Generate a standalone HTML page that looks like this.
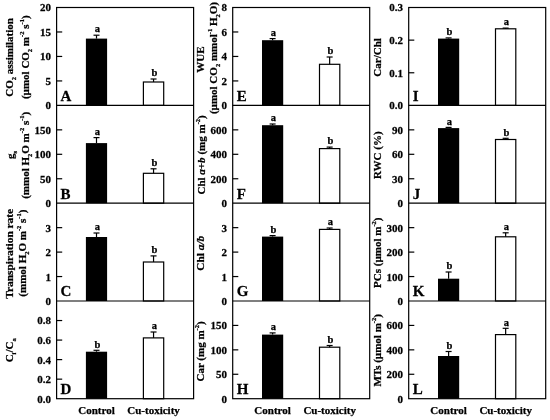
<!DOCTYPE html><html><head><meta charset="utf-8"><title>Figure</title><style>html,body{margin:0;padding:0;background:#fff;}svg{display:block;}</style></head><body>
<svg width="550" height="420" viewBox="0 0 550 420" font-family="'Liberation Serif', 'Times New Roman', serif" font-weight="bold">
<style>text{stroke:#000;stroke-width:0.25px;}</style>
<rect x="0" y="0" width="550" height="420" fill="#fff"/>
<rect x="85.90" y="38.60" width="21.20" height="66.80" fill="#000"/>
<rect x="143.40" y="82.00" width="20.30" height="23.40" fill="#fff" stroke="#000" stroke-width="1.2"/>
<line x1="96.50" y1="38.60" x2="96.50" y2="35.20" stroke="#000" stroke-width="1.2"/>
<line x1="93.50" y1="35.20" x2="99.50" y2="35.20" stroke="#000" stroke-width="1.2"/>
<line x1="153.55" y1="82.00" x2="153.55" y2="79.00" stroke="#000" stroke-width="1.2"/>
<line x1="150.55" y1="79.00" x2="156.55" y2="79.00" stroke="#000" stroke-width="1.2"/>
<text x="97.30" y="32.40" font-size="10.5" text-anchor="middle">a</text>
<text x="154.35" y="76.20" font-size="10.5" text-anchor="middle">b</text>
<text transform="translate(50.90,109.35) scale(1,1.03)" font-size="11" text-anchor="end">0</text>
<line x1="56.60" y1="80.93" x2="62.20" y2="80.93" stroke="#000" stroke-width="1.2"/>
<text transform="translate(50.90,84.88) scale(1,1.03)" font-size="11" text-anchor="end">5</text>
<line x1="56.60" y1="56.45" x2="62.20" y2="56.45" stroke="#000" stroke-width="1.2"/>
<text transform="translate(50.90,60.40) scale(1,1.03)" font-size="11" text-anchor="end">10</text>
<line x1="56.60" y1="31.97" x2="62.20" y2="31.97" stroke="#000" stroke-width="1.2"/>
<text transform="translate(50.90,35.92) scale(1,1.03)" font-size="11" text-anchor="end">15</text>
<text transform="translate(50.90,11.45) scale(1,1.03)" font-size="11" text-anchor="end">20</text>
<text transform="translate(60.60,100.80) scale(1,1.03)" font-size="15">A</text>
<text transform="translate(13.30,57.45) rotate(-90)" font-size="11" text-anchor="middle">CO<tspan font-size="6.5" baseline-shift="-2.6">2</tspan> assimilation</text>
<text transform="translate(28.50,57.25) rotate(-90)" font-size="11" text-anchor="middle">(µmol CO<tspan font-size="6.5" baseline-shift="-2.6">2</tspan> m<tspan font-size="6.5" baseline-shift="5.3">-2</tspan> s<tspan font-size="6.5" baseline-shift="5.3">-1</tspan>)</text>
<rect x="85.90" y="143.10" width="21.20" height="60.10" fill="#000"/>
<rect x="143.40" y="173.30" width="20.30" height="29.90" fill="#fff" stroke="#000" stroke-width="1.2"/>
<line x1="96.50" y1="143.10" x2="96.50" y2="137.60" stroke="#000" stroke-width="1.2"/>
<line x1="93.50" y1="137.60" x2="99.50" y2="137.60" stroke="#000" stroke-width="1.2"/>
<line x1="153.55" y1="173.30" x2="153.55" y2="168.80" stroke="#000" stroke-width="1.2"/>
<line x1="150.55" y1="168.80" x2="156.55" y2="168.80" stroke="#000" stroke-width="1.2"/>
<text x="97.30" y="134.80" font-size="10.5" text-anchor="middle">a</text>
<text x="154.35" y="166.00" font-size="10.5" text-anchor="middle">b</text>
<text transform="translate(50.90,207.15) scale(1,1.03)" font-size="11" text-anchor="end">0</text>
<line x1="56.60" y1="178.75" x2="62.20" y2="178.75" stroke="#000" stroke-width="1.2"/>
<text transform="translate(50.90,182.70) scale(1,1.03)" font-size="11" text-anchor="end">50</text>
<line x1="56.60" y1="154.30" x2="62.20" y2="154.30" stroke="#000" stroke-width="1.2"/>
<text transform="translate(50.90,158.25) scale(1,1.03)" font-size="11" text-anchor="end">100</text>
<line x1="56.60" y1="129.85" x2="62.20" y2="129.85" stroke="#000" stroke-width="1.2"/>
<text transform="translate(50.90,133.80) scale(1,1.03)" font-size="11" text-anchor="end">150</text>
<text transform="translate(60.60,198.60) scale(1,1.03)" font-size="15">B</text>
<text transform="translate(14.00,155.10) rotate(-90)" font-size="11" text-anchor="middle">g<tspan font-size="6.5" baseline-shift="-2.6">s</tspan></text>
<text transform="translate(28.50,155.30) rotate(-90)" font-size="11" text-anchor="middle">(mmol H<tspan font-size="6.5" baseline-shift="-2.6">2</tspan>O m<tspan font-size="6.5" baseline-shift="5.3">-2</tspan> s<tspan font-size="6.5" baseline-shift="5.3">-1</tspan>)</text>
<rect x="85.90" y="237.00" width="21.20" height="64.00" fill="#000"/>
<rect x="143.40" y="262.00" width="20.30" height="39.00" fill="#fff" stroke="#000" stroke-width="1.2"/>
<line x1="96.50" y1="237.00" x2="96.50" y2="233.00" stroke="#000" stroke-width="1.2"/>
<line x1="93.50" y1="233.00" x2="99.50" y2="233.00" stroke="#000" stroke-width="1.2"/>
<line x1="153.55" y1="262.00" x2="153.55" y2="255.90" stroke="#000" stroke-width="1.2"/>
<line x1="150.55" y1="255.90" x2="156.55" y2="255.90" stroke="#000" stroke-width="1.2"/>
<text x="97.30" y="230.20" font-size="10.5" text-anchor="middle">a</text>
<text x="154.35" y="253.10" font-size="10.5" text-anchor="middle">b</text>
<text transform="translate(50.90,304.95) scale(1,1.03)" font-size="11" text-anchor="end">0</text>
<line x1="56.60" y1="276.55" x2="62.20" y2="276.55" stroke="#000" stroke-width="1.2"/>
<text transform="translate(50.90,280.50) scale(1,1.03)" font-size="11" text-anchor="end">1</text>
<line x1="56.60" y1="252.10" x2="62.20" y2="252.10" stroke="#000" stroke-width="1.2"/>
<text transform="translate(50.90,256.05) scale(1,1.03)" font-size="11" text-anchor="end">2</text>
<line x1="56.60" y1="227.65" x2="62.20" y2="227.65" stroke="#000" stroke-width="1.2"/>
<text transform="translate(50.90,231.60) scale(1,1.03)" font-size="11" text-anchor="end">3</text>
<text transform="translate(60.60,296.40) scale(1,1.03)" font-size="15">C</text>
<text transform="translate(13.30,253.80) rotate(-90) scale(1.035,1)" font-size="11" text-anchor="middle">Transpiration rate</text>
<text transform="translate(25.80,253.10) rotate(-90)" font-size="11" text-anchor="middle">(mmol H<tspan font-size="6.5" baseline-shift="-2.6">2</tspan>O m<tspan font-size="6.5" baseline-shift="5.3">-2</tspan> s<tspan font-size="6.5" baseline-shift="5.3">-1</tspan>)</text>
<rect x="85.90" y="351.70" width="21.20" height="47.00" fill="#000"/>
<rect x="143.40" y="337.90" width="20.30" height="60.80" fill="#fff" stroke="#000" stroke-width="1.2"/>
<line x1="96.50" y1="351.70" x2="96.50" y2="350.30" stroke="#000" stroke-width="1.2"/>
<line x1="93.50" y1="350.30" x2="99.50" y2="350.30" stroke="#000" stroke-width="1.2"/>
<line x1="153.55" y1="337.90" x2="153.55" y2="332.00" stroke="#000" stroke-width="1.2"/>
<line x1="150.55" y1="332.00" x2="156.55" y2="332.00" stroke="#000" stroke-width="1.2"/>
<text x="97.30" y="347.50" font-size="10.5" text-anchor="middle">b</text>
<text x="154.35" y="329.20" font-size="10.5" text-anchor="middle">a</text>
<text transform="translate(50.90,402.65) scale(1,1.03)" font-size="11" text-anchor="end">0.0</text>
<line x1="56.60" y1="379.16" x2="62.20" y2="379.16" stroke="#000" stroke-width="1.2"/>
<text transform="translate(50.90,383.11) scale(1,1.03)" font-size="11" text-anchor="end">0.2</text>
<line x1="56.60" y1="359.62" x2="62.20" y2="359.62" stroke="#000" stroke-width="1.2"/>
<text transform="translate(50.90,363.57) scale(1,1.03)" font-size="11" text-anchor="end">0.4</text>
<line x1="56.60" y1="340.08" x2="62.20" y2="340.08" stroke="#000" stroke-width="1.2"/>
<text transform="translate(50.90,344.03) scale(1,1.03)" font-size="11" text-anchor="end">0.6</text>
<line x1="56.60" y1="320.54" x2="62.20" y2="320.54" stroke="#000" stroke-width="1.2"/>
<text transform="translate(50.90,324.49) scale(1,1.03)" font-size="11" text-anchor="end">0.8</text>
<text transform="translate(60.60,394.10) scale(1,1.03)" font-size="15">D</text>
<text transform="translate(12.90,350.35) rotate(-90)" font-size="11" text-anchor="middle">C<tspan font-size="6.5" baseline-shift="-2.6">i</tspan>/C<tspan font-size="6.5" baseline-shift="-2.6">a</tspan></text>
<rect x="262.00" y="40.20" width="21.20" height="65.20" fill="#000"/>
<rect x="319.50" y="64.30" width="20.30" height="41.10" fill="#fff" stroke="#000" stroke-width="1.2"/>
<line x1="272.60" y1="40.20" x2="272.60" y2="38.60" stroke="#000" stroke-width="1.2"/>
<line x1="269.60" y1="38.60" x2="275.60" y2="38.60" stroke="#000" stroke-width="1.2"/>
<line x1="329.65" y1="64.30" x2="329.65" y2="57.00" stroke="#000" stroke-width="1.2"/>
<line x1="326.65" y1="57.00" x2="332.65" y2="57.00" stroke="#000" stroke-width="1.2"/>
<text x="273.40" y="35.80" font-size="10.5" text-anchor="middle">a</text>
<text x="330.45" y="54.20" font-size="10.5" text-anchor="middle">b</text>
<text transform="translate(227.00,109.35) scale(1,1.03)" font-size="11" text-anchor="end">0</text>
<line x1="232.70" y1="80.93" x2="238.30" y2="80.93" stroke="#000" stroke-width="1.2"/>
<text transform="translate(227.00,84.88) scale(1,1.03)" font-size="11" text-anchor="end">2</text>
<line x1="232.70" y1="56.45" x2="238.30" y2="56.45" stroke="#000" stroke-width="1.2"/>
<text transform="translate(227.00,60.40) scale(1,1.03)" font-size="11" text-anchor="end">4</text>
<line x1="232.70" y1="31.97" x2="238.30" y2="31.97" stroke="#000" stroke-width="1.2"/>
<text transform="translate(227.00,35.92) scale(1,1.03)" font-size="11" text-anchor="end">6</text>
<text transform="translate(227.00,11.45) scale(1,1.03)" font-size="11" text-anchor="end">8</text>
<text transform="translate(236.70,100.80) scale(1,1.03)" font-size="15">E</text>
<text transform="translate(204.00,59.65) rotate(-90)" font-size="11" text-anchor="middle">WUE</text>
<text transform="translate(217.40,58.05) rotate(-90)" font-size="11" text-anchor="middle">(µmol CO<tspan font-size="6.5" baseline-shift="-2.6">2</tspan> mmol<tspan font-size="6.5" baseline-shift="5.3">-1</tspan> H<tspan font-size="6.5" baseline-shift="-2.6">2</tspan>O)</text>
<rect x="262.00" y="125.20" width="21.20" height="78.00" fill="#000"/>
<rect x="319.50" y="148.60" width="20.30" height="54.60" fill="#fff" stroke="#000" stroke-width="1.2"/>
<line x1="272.60" y1="125.20" x2="272.60" y2="124.00" stroke="#000" stroke-width="1.2"/>
<line x1="269.60" y1="124.00" x2="275.60" y2="124.00" stroke="#000" stroke-width="1.2"/>
<line x1="329.65" y1="148.60" x2="329.65" y2="147.10" stroke="#000" stroke-width="1.2"/>
<line x1="326.65" y1="147.10" x2="332.65" y2="147.10" stroke="#000" stroke-width="1.2"/>
<text x="273.40" y="121.20" font-size="10.5" text-anchor="middle">a</text>
<text x="330.45" y="144.30" font-size="10.5" text-anchor="middle">b</text>
<text transform="translate(227.00,207.15) scale(1,1.03)" font-size="11" text-anchor="end">0</text>
<line x1="232.70" y1="178.75" x2="238.30" y2="178.75" stroke="#000" stroke-width="1.2"/>
<text transform="translate(227.00,182.70) scale(1,1.03)" font-size="11" text-anchor="end">200</text>
<line x1="232.70" y1="154.30" x2="238.30" y2="154.30" stroke="#000" stroke-width="1.2"/>
<text transform="translate(227.00,158.25) scale(1,1.03)" font-size="11" text-anchor="end">400</text>
<line x1="232.70" y1="129.85" x2="238.30" y2="129.85" stroke="#000" stroke-width="1.2"/>
<text transform="translate(227.00,133.80) scale(1,1.03)" font-size="11" text-anchor="end">600</text>
<text transform="translate(236.70,198.60) scale(1,1.03)" font-size="15">F</text>
<text transform="translate(204.90,154.90) rotate(-90)" font-size="11" text-anchor="middle">Chl <tspan font-style="italic">a+b</tspan> (mg m<tspan font-size="6.5" baseline-shift="5.3">-2</tspan>)</text>
<rect x="262.00" y="236.60" width="21.20" height="64.40" fill="#000"/>
<rect x="319.50" y="229.40" width="20.30" height="71.60" fill="#fff" stroke="#000" stroke-width="1.2"/>
<line x1="272.60" y1="236.60" x2="272.60" y2="235.60" stroke="#000" stroke-width="1.2"/>
<line x1="269.60" y1="235.60" x2="275.60" y2="235.60" stroke="#000" stroke-width="1.2"/>
<line x1="329.65" y1="229.40" x2="329.65" y2="228.00" stroke="#000" stroke-width="1.2"/>
<line x1="326.65" y1="228.00" x2="332.65" y2="228.00" stroke="#000" stroke-width="1.2"/>
<text x="273.40" y="232.80" font-size="10.5" text-anchor="middle">b</text>
<text x="330.45" y="225.20" font-size="10.5" text-anchor="middle">a</text>
<text transform="translate(227.00,304.95) scale(1,1.03)" font-size="11" text-anchor="end">0</text>
<line x1="232.70" y1="276.55" x2="238.30" y2="276.55" stroke="#000" stroke-width="1.2"/>
<text transform="translate(227.00,280.50) scale(1,1.03)" font-size="11" text-anchor="end">1</text>
<line x1="232.70" y1="252.10" x2="238.30" y2="252.10" stroke="#000" stroke-width="1.2"/>
<text transform="translate(227.00,256.05) scale(1,1.03)" font-size="11" text-anchor="end">2</text>
<line x1="232.70" y1="227.65" x2="238.30" y2="227.65" stroke="#000" stroke-width="1.2"/>
<text transform="translate(227.00,231.60) scale(1,1.03)" font-size="11" text-anchor="end">3</text>
<text transform="translate(236.70,296.40) scale(1,1.03)" font-size="15">G</text>
<text transform="translate(204.40,253.20) rotate(-90) scale(1.03,1)" font-size="11" text-anchor="middle">Chl <tspan font-style="italic">a/b</tspan></text>
<rect x="262.00" y="334.60" width="21.20" height="64.10" fill="#000"/>
<rect x="319.50" y="347.20" width="20.30" height="51.50" fill="#fff" stroke="#000" stroke-width="1.2"/>
<line x1="272.60" y1="334.60" x2="272.60" y2="332.90" stroke="#000" stroke-width="1.2"/>
<line x1="269.60" y1="332.90" x2="275.60" y2="332.90" stroke="#000" stroke-width="1.2"/>
<line x1="329.65" y1="347.20" x2="329.65" y2="345.50" stroke="#000" stroke-width="1.2"/>
<line x1="326.65" y1="345.50" x2="332.65" y2="345.50" stroke="#000" stroke-width="1.2"/>
<text x="273.40" y="330.10" font-size="10.5" text-anchor="middle">a</text>
<text x="330.45" y="342.70" font-size="10.5" text-anchor="middle">b</text>
<text transform="translate(227.00,402.65) scale(1,1.03)" font-size="11" text-anchor="end">0</text>
<line x1="232.70" y1="374.27" x2="238.30" y2="374.27" stroke="#000" stroke-width="1.2"/>
<text transform="translate(227.00,378.22) scale(1,1.03)" font-size="11" text-anchor="end">50</text>
<line x1="232.70" y1="349.85" x2="238.30" y2="349.85" stroke="#000" stroke-width="1.2"/>
<text transform="translate(227.00,353.80) scale(1,1.03)" font-size="11" text-anchor="end">100</text>
<line x1="232.70" y1="325.43" x2="238.30" y2="325.43" stroke="#000" stroke-width="1.2"/>
<text transform="translate(227.00,329.38) scale(1,1.03)" font-size="11" text-anchor="end">150</text>
<text transform="translate(236.70,394.10) scale(1,1.03)" font-size="15">H</text>
<text transform="translate(204.20,351.45) rotate(-90)" font-size="11" text-anchor="middle">Car (mg m<tspan font-size="6.5" baseline-shift="5.3">-2</tspan>)</text>
<rect x="438.00" y="38.60" width="21.20" height="66.80" fill="#000"/>
<rect x="495.50" y="28.80" width="20.30" height="76.60" fill="#fff" stroke="#000" stroke-width="1.2"/>
<line x1="448.60" y1="38.60" x2="448.60" y2="37.90" stroke="#000" stroke-width="1.2"/>
<line x1="445.60" y1="37.90" x2="451.60" y2="37.90" stroke="#000" stroke-width="1.2"/>
<line x1="505.65" y1="28.80" x2="505.65" y2="28.10" stroke="#000" stroke-width="1.2"/>
<line x1="502.65" y1="28.10" x2="508.65" y2="28.10" stroke="#000" stroke-width="1.2"/>
<text x="449.40" y="35.10" font-size="10.5" text-anchor="middle">b</text>
<text x="506.45" y="25.30" font-size="10.5" text-anchor="middle">a</text>
<text transform="translate(403.00,109.35) scale(1,1.03)" font-size="11" text-anchor="end">0.0</text>
<line x1="408.70" y1="72.77" x2="414.30" y2="72.77" stroke="#000" stroke-width="1.2"/>
<text transform="translate(403.00,76.72) scale(1,1.03)" font-size="11" text-anchor="end">0.1</text>
<line x1="408.70" y1="40.13" x2="414.30" y2="40.13" stroke="#000" stroke-width="1.2"/>
<text transform="translate(403.00,44.08) scale(1,1.03)" font-size="11" text-anchor="end">0.2</text>
<text transform="translate(403.00,11.45) scale(1,1.03)" font-size="11" text-anchor="end">0.3</text>
<text transform="translate(412.70,100.80) scale(1,1.03)" font-size="15">I</text>
<text transform="translate(381.30,57.45) rotate(-90)" font-size="11" text-anchor="middle">Car/Chl</text>
<rect x="438.00" y="128.10" width="21.20" height="75.10" fill="#000"/>
<rect x="495.50" y="139.50" width="20.30" height="63.70" fill="#fff" stroke="#000" stroke-width="1.2"/>
<line x1="448.60" y1="128.10" x2="448.60" y2="127.40" stroke="#000" stroke-width="1.2"/>
<line x1="445.60" y1="127.40" x2="451.60" y2="127.40" stroke="#000" stroke-width="1.2"/>
<line x1="505.65" y1="139.50" x2="505.65" y2="138.30" stroke="#000" stroke-width="1.2"/>
<line x1="502.65" y1="138.30" x2="508.65" y2="138.30" stroke="#000" stroke-width="1.2"/>
<text x="449.40" y="124.60" font-size="10.5" text-anchor="middle">a</text>
<text x="506.45" y="135.50" font-size="10.5" text-anchor="middle">b</text>
<text transform="translate(403.00,207.15) scale(1,1.03)" font-size="11" text-anchor="end">0</text>
<line x1="408.70" y1="178.75" x2="414.30" y2="178.75" stroke="#000" stroke-width="1.2"/>
<text transform="translate(403.00,182.70) scale(1,1.03)" font-size="11" text-anchor="end">30</text>
<line x1="408.70" y1="154.30" x2="414.30" y2="154.30" stroke="#000" stroke-width="1.2"/>
<text transform="translate(403.00,158.25) scale(1,1.03)" font-size="11" text-anchor="end">60</text>
<line x1="408.70" y1="129.85" x2="414.30" y2="129.85" stroke="#000" stroke-width="1.2"/>
<text transform="translate(403.00,133.80) scale(1,1.03)" font-size="11" text-anchor="end">90</text>
<text transform="translate(412.70,198.60) scale(1,1.03)" font-size="15">J</text>
<text transform="translate(381.30,155.20) rotate(-90)" font-size="11" text-anchor="middle">RWC (%)</text>
<rect x="438.00" y="278.70" width="21.20" height="22.30" fill="#000"/>
<rect x="495.50" y="236.80" width="20.30" height="64.20" fill="#fff" stroke="#000" stroke-width="1.2"/>
<line x1="448.60" y1="278.70" x2="448.60" y2="272.00" stroke="#000" stroke-width="1.2"/>
<line x1="445.60" y1="272.00" x2="451.60" y2="272.00" stroke="#000" stroke-width="1.2"/>
<line x1="505.65" y1="236.80" x2="505.65" y2="232.80" stroke="#000" stroke-width="1.2"/>
<line x1="502.65" y1="232.80" x2="508.65" y2="232.80" stroke="#000" stroke-width="1.2"/>
<text x="449.40" y="269.20" font-size="10.5" text-anchor="middle">b</text>
<text x="506.45" y="230.00" font-size="10.5" text-anchor="middle">a</text>
<text transform="translate(403.00,304.95) scale(1,1.03)" font-size="11" text-anchor="end">0</text>
<line x1="408.70" y1="276.55" x2="414.30" y2="276.55" stroke="#000" stroke-width="1.2"/>
<text transform="translate(403.00,280.50) scale(1,1.03)" font-size="11" text-anchor="end">100</text>
<line x1="408.70" y1="252.10" x2="414.30" y2="252.10" stroke="#000" stroke-width="1.2"/>
<text transform="translate(403.00,256.05) scale(1,1.03)" font-size="11" text-anchor="end">200</text>
<line x1="408.70" y1="227.65" x2="414.30" y2="227.65" stroke="#000" stroke-width="1.2"/>
<text transform="translate(403.00,231.60) scale(1,1.03)" font-size="11" text-anchor="end">300</text>
<text transform="translate(412.70,296.40) scale(1,1.03)" font-size="15">K</text>
<text transform="translate(381.30,252.70) rotate(-90)" font-size="11" text-anchor="middle">PCs (µmol m<tspan font-size="6.5" baseline-shift="5.3">-2</tspan>)</text>
<rect x="438.00" y="356.00" width="21.20" height="42.70" fill="#000"/>
<rect x="495.50" y="334.60" width="20.30" height="64.10" fill="#fff" stroke="#000" stroke-width="1.2"/>
<line x1="448.60" y1="356.00" x2="448.60" y2="351.50" stroke="#000" stroke-width="1.2"/>
<line x1="445.60" y1="351.50" x2="451.60" y2="351.50" stroke="#000" stroke-width="1.2"/>
<line x1="505.65" y1="334.60" x2="505.65" y2="328.30" stroke="#000" stroke-width="1.2"/>
<line x1="502.65" y1="328.30" x2="508.65" y2="328.30" stroke="#000" stroke-width="1.2"/>
<text x="449.40" y="348.70" font-size="10.5" text-anchor="middle">b</text>
<text x="506.45" y="325.50" font-size="10.5" text-anchor="middle">a</text>
<text transform="translate(403.00,402.65) scale(1,1.03)" font-size="11" text-anchor="end">0</text>
<line x1="408.70" y1="374.27" x2="414.30" y2="374.27" stroke="#000" stroke-width="1.2"/>
<text transform="translate(403.00,378.22) scale(1,1.03)" font-size="11" text-anchor="end">200</text>
<line x1="408.70" y1="349.85" x2="414.30" y2="349.85" stroke="#000" stroke-width="1.2"/>
<text transform="translate(403.00,353.80) scale(1,1.03)" font-size="11" text-anchor="end">400</text>
<line x1="408.70" y1="325.43" x2="414.30" y2="325.43" stroke="#000" stroke-width="1.2"/>
<text transform="translate(403.00,329.38) scale(1,1.03)" font-size="11" text-anchor="end">600</text>
<text transform="translate(412.70,394.10) scale(1,1.03)" font-size="15">L</text>
<text transform="translate(381.30,350.35) rotate(-90)" font-size="11" text-anchor="middle">MTs (µmol m<tspan font-size="6.5" baseline-shift="5.3">-2</tspan>)</text>
<rect x="56.60" y="7.50" width="137.00" height="391.20" fill="none" stroke="#000" stroke-width="1.2"/>
<line x1="56.60" y1="105.40" x2="193.60" y2="105.40" stroke="#000" stroke-width="1.2"/>
<line x1="56.60" y1="203.20" x2="193.60" y2="203.20" stroke="#000" stroke-width="1.2"/>
<line x1="56.60" y1="301.00" x2="193.60" y2="301.00" stroke="#000" stroke-width="1.2"/>
<text transform="translate(96.50,414.1) scale(1,1.0)" font-size="11" text-anchor="middle">Control</text>
<text transform="translate(153.55,414.1) scale(1,1.0)" font-size="11" text-anchor="middle">Cu-toxicity</text>
<rect x="232.70" y="7.50" width="137.00" height="391.20" fill="none" stroke="#000" stroke-width="1.2"/>
<line x1="232.70" y1="105.40" x2="369.70" y2="105.40" stroke="#000" stroke-width="1.2"/>
<line x1="232.70" y1="203.20" x2="369.70" y2="203.20" stroke="#000" stroke-width="1.2"/>
<line x1="232.70" y1="301.00" x2="369.70" y2="301.00" stroke="#000" stroke-width="1.2"/>
<text transform="translate(272.60,414.1) scale(1,1.0)" font-size="11" text-anchor="middle">Control</text>
<text transform="translate(329.65,414.1) scale(1,1.0)" font-size="11" text-anchor="middle">Cu-toxicity</text>
<rect x="408.70" y="7.50" width="137.00" height="391.20" fill="none" stroke="#000" stroke-width="1.2"/>
<line x1="408.70" y1="105.40" x2="545.70" y2="105.40" stroke="#000" stroke-width="1.2"/>
<line x1="408.70" y1="203.20" x2="545.70" y2="203.20" stroke="#000" stroke-width="1.2"/>
<line x1="408.70" y1="301.00" x2="545.70" y2="301.00" stroke="#000" stroke-width="1.2"/>
<text transform="translate(448.60,414.1) scale(1,1.0)" font-size="11" text-anchor="middle">Control</text>
<text transform="translate(505.65,414.1) scale(1,1.0)" font-size="11" text-anchor="middle">Cu-toxicity</text>
</svg></body></html>
